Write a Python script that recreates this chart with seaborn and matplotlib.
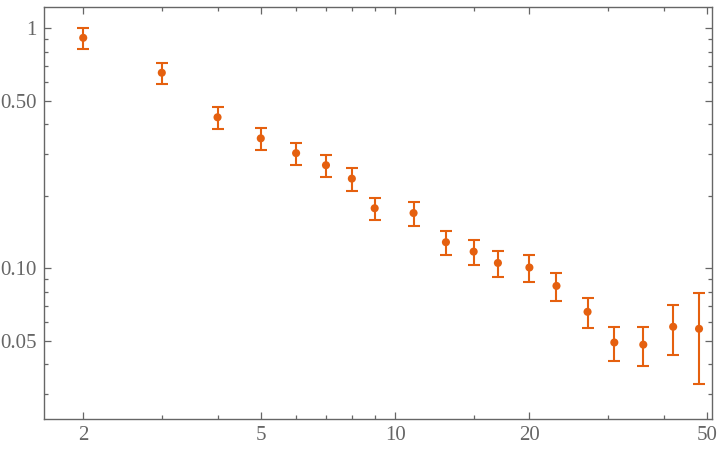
import numpy as np
import pandas as pd
import matplotlib
matplotlib.use("Agg")
import matplotlib.pyplot as plt
from matplotlib.ticker import FixedLocator, FixedFormatter, NullFormatter
import seaborn as sns

# data
x_vals = [2, 3, 4, 5, 6, 7, 8, 9, 11, 13, 15, 17, 20, 23, 27, 31, 36, 42, 48]
y_vals = [0.913, 0.653, 0.426, 0.348, 0.302, 0.269, 0.2365, 0.178, 0.170,
          0.1285, 0.1174, 0.1053, 0.1008, 0.0845, 0.0659, 0.0491, 0.0481,
          0.0571, 0.0560]
y_err = [0.093, 0.0665, 0.0454, 0.0372, 0.0318, 0.0283, 0.026, 0.019, 0.0198,
         0.0149, 0.0142, 0.013, 0.0131, 0.0114, 0.0095, 0.008, 0.009,
         0.0134, 0.023]

x_major = [2, 5, 10, 20, 50]
x_major_labels = ["2", "5", "10", "20", "50"]
x_minor = [3, 4, 6, 7, 8, 9, 15, 30, 40]
y_major = [1.0, 0.5, 0.1, 0.05]
y_major_labels = ["1", "0.50", "0.10", "0.05"]
y_minor = [0.9, 0.8, 0.7, 0.6, 0.4, 0.3, 0.2, 0.09, 0.08, 0.07, 0.06, 0.04, 0.03]

df = pd.DataFrame({"x": x_vals, "y": y_vals, "err": y_err})

sns.set_theme(style="ticks")
plt.rcParams["font.family"] = ["Liberation Serif", "DejaVu Serif"]

color = "#E5600F"
frame = "#666666"

fig = plt.figure(figsize=(7.2, 4.5), dpi=100)
ax = fig.add_axes([44.3 / 720, 1 - 419.3 / 450, (712.3 - 44.3) / 720, (419.3 - 7) / 450])

ax.errorbar(df["x"], df["y"], yerr=df["err"], fmt="none", ecolor=color,
            elinewidth=1.5, capsize=4.1, capthick=1.5, zorder=2)
sns.scatterplot(data=df, x="x", y="y", ax=ax, color=color, s=34,
                edgecolor="none", zorder=3, legend=False)

ax.set_xscale("log")
ax.set_yscale("log")
ax.set_xlim(1.636, 51.4)
ax.set_ylim(0.0235, 1.227)

ax.xaxis.set_major_locator(FixedLocator(x_major))
ax.xaxis.set_major_formatter(FixedFormatter(x_major_labels))
ax.xaxis.set_minor_locator(FixedLocator(x_minor))
ax.xaxis.set_minor_formatter(NullFormatter())
ax.yaxis.set_major_locator(FixedLocator(y_major))
ax.yaxis.set_major_formatter(FixedFormatter(y_major_labels))
ax.yaxis.set_minor_locator(FixedLocator(y_minor))
ax.yaxis.set_minor_formatter(NullFormatter())

ax.set_xlabel("")
ax.set_ylabel("")

for s in ax.spines.values():
    s.set_visible(True)
    s.set_color(frame)
    s.set_linewidth(1.0)

ax.tick_params(which="both", direction="in", top=True, right=True,
               color=frame, labelcolor="#666666", labelsize=15, width=0.9)
ax.tick_params(which="major", length=5)
ax.tick_params(which="minor", length=2.6)
ax.tick_params(axis="x", which="major", pad=5)
ax.tick_params(axis="y", which="major", pad=5.5)

fig.savefig("out.png", dpi=100)
